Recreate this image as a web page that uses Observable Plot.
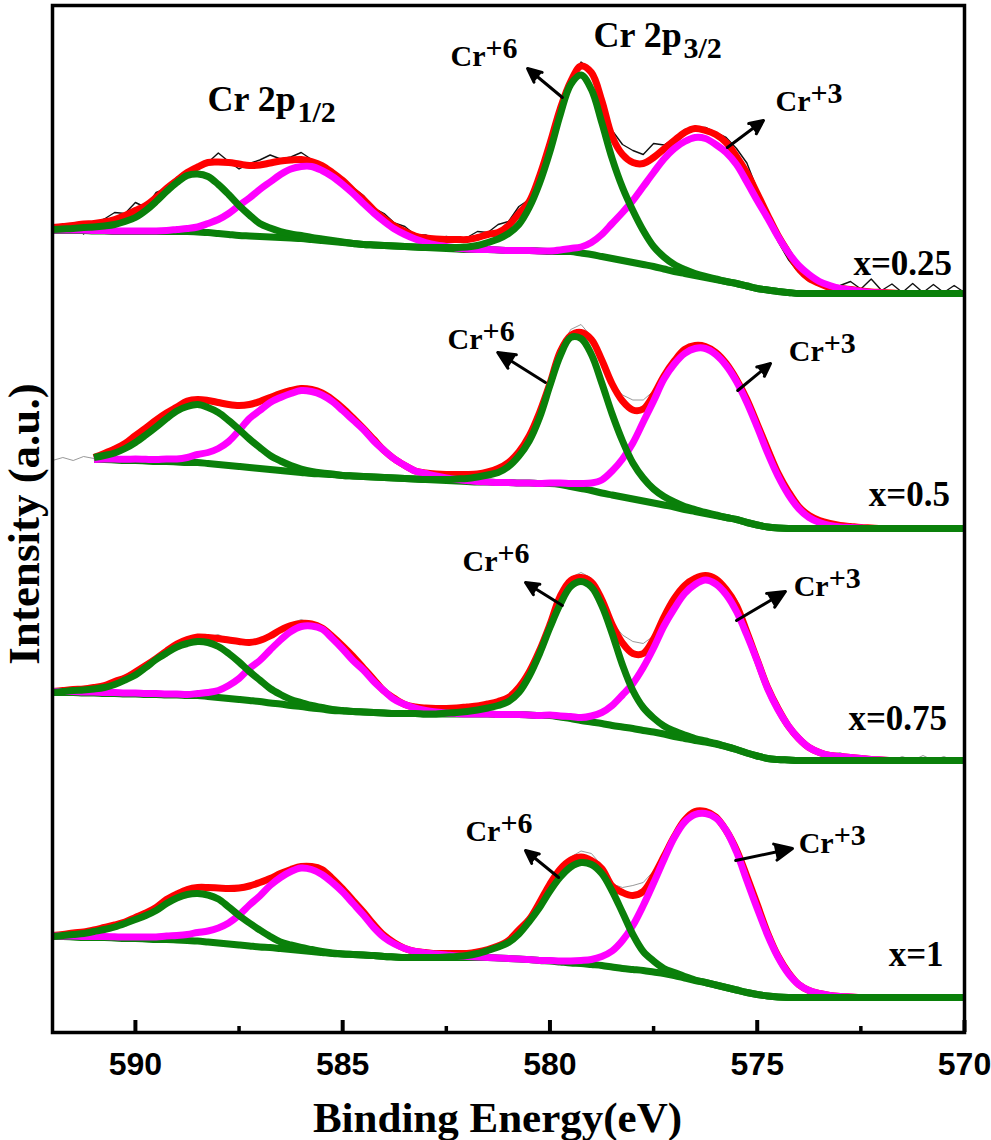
<!DOCTYPE html>
<html>
<head>
<meta charset="utf-8">
<script src="https://cdn.jsdelivr.net/npm/d3@7"></script>
<script src="https://cdn.jsdelivr.net/npm/@observablehq/plot@0.6"></script>
<style>
  html, body { margin: 0; padding: 0; background: #fff; }
  #chart svg { display: block; }
  #chart g[aria-label="x-axis tick label"] text {
    font-family: "Liberation Sans", Arial, Helvetica, sans-serif;
    font-size: 32px;
    font-weight: bold;
  }
</style>
</head>
<body>
<div id="chart"></div>
<script>
// Cr 2p XPS spectra of four compositions, each fitted with a Cr6+ and a Cr3+ doublet
// on a Shirley-type background. Spectra are stacked with a vertical offset.

// Binding-energy sampling grid (eV), 0.25 eV steps from 592 down to 570.
const energy = d3.range(592, 569.875, -0.25);

const samples = ["x=0.25", "x=0.5", "x=0.75", "x=1"];
const offsets = [739, 504, 272, 35];      // stacking offset of each spectrum (a.u.)
const fitStart = [592, 591, 592, 592];    // highest energy covered by each fit (eV)

// Each row of four values covers one eV: E, E-0.25, E-0.5, E-0.75 (592 ... 571), then 570.
// Background (a.u. above the stacking offset)
const bg025 = [
  63, 63, 63, 63,   62.5, 62.5, 62, 62,   62, 62, 62, 62,   62, 62, 61.5, 61,
  60, 59, 58, 57.5,   57, 56.5, 56, 55.5,   55, 54, 53, 52,   51, 50, 49, 48.5,
  48, 47.5, 47, 46.5,   46, 45.5, 45, 44.5,   44, 44, 44, 43.5,   43, 43, 43, 42.5,
  42, 42, 42, 40.5,   39, 37, 35, 33,   31, 29, 27, 24.5,   22, 20, 18, 16,
  14, 12, 10, 7.5,   5, 3.5, 2, 1,   0, 0, 0, 0,   0, 0, 0, 0,
  0, 0, 0, 0,   0, 0, 0, 0,   0
];
// Cr6+ components (2p1/2 near 588.5 eV, 2p3/2 near 579.3 eV), height above background
const cr6_025 = [
  1, 1.5, 2, 3,   4, 5, 7, 10,   14, 21, 30, 40,   49, 56, 58, 56,
  49, 40, 30, 21,   13, 9, 6, 4,   3, 2, 1.5, 1,   0.5, 0, 0, 0,
  0, 0, 0, 0,   0, 0.5, 1, 1.5,   2.5, 4, 7, 11,   17, 26, 43, 68,
  100, 137, 167, 178,   165, 134, 100, 73,   52, 34, 20, 12,   7, 4, 2, 1,
  0.5, 0, 0, 0,   0, 0, 0, 0,   0, 0, 0, 0,   0, 0, 0, 0,
  0, 0, 0, 0,   0, 0, 0, 0,   0
];
// Cr3+ components (2p1/2 near 586 eV, 2p3/2 near 576.3 eV), height above background
const cr3_025 = [
  0.5, 0.5, 0.5, 0.5,   0.5, 0.5, 0.5, 0.5,   0.5, 0.5, 0.5, 1,   2, 3, 5, 9,
  14, 21, 30, 38,   47, 55, 63, 69,   72, 73, 70, 65,   58, 50, 41, 32,
  24, 17, 12, 8,   5, 3, 2, 1,   0.5, 0, 0, 0,   0, 0, 0, 0,
  0.5, 1.5, 3, 6,   12, 22, 35, 48,   62, 78, 94, 110,   123, 132, 138, 139,
  135, 129, 119, 104,   88, 72, 55, 40,   28, 19, 12, 8,   5, 3.5, 2, 1,
  0.5, 0, 0, 0,   0, 0, 0, 0,   0
];
// Fitted envelope, height above background
const env025 = [
  3, 4, 5, 6.5,   7.5, 9, 12, 16,   21, 26, 34, 43,   51, 59, 65, 70,
  71.5, 72, 71.5, 70.5,   71.5, 74, 76.5, 78,   79, 78, 75, 69,   62, 53, 45, 35,
  27, 20, 15, 11,   9.5, 9, 9, 9.5,   10, 12, 15, 17.5,   25, 37, 49, 75,
  108, 143, 170, 187,   182, 156, 122, 106,   100, 101, 109, 120,   131, 141, 147, 147,
  145, 139, 127, 113,   95, 75, 56, 40,   25, 15, 10, 6,   5, 4, 2.5, 1.5,
  1, 0.5, 0, 0,   0, 0, 0, 0,   0
];
// Measured counts minus the fitted envelope
const noise025 = [
  0, -3, 2, -10,   0, 3, 7, 2,   8, -2, 5, 0,   3, -2, 2, 0,
  9, 1, -5, 2,   5, 8, 2, 3,   7, 2, 0, -2,   1, 3, 4, 2,
  5, 3, 5, 1,   3, 0, 3, 1,   2, 6, 2, 8,   4, 7, 2, 5,
  -2, 4, 0, 4,   2, 3, 6, 10,   12, 9, 14, 4,   2, 3, 1, 3,
  2, 5, 8, 10,   4, 2, -6, -7,   -4, -3, 2, 0,   3, 8, 2, 13,
  2, 9, 1, 10,   1, 9, 1, 8,   1
];

const bg05 = [
  69, 69, 69, 69,   69, 69, 68.5, 68,   68, 67.5, 67, 67,   66.5, 66, 66, 65,
  64, 63, 62, 61,   60, 59, 58, 57,   56, 55, 54.5, 54,   53, 52.5, 52, 51.5,
  51, 50.5, 50, 49.5,   49, 48.5, 48, 47.5,   47, 46.5, 46.5, 46,   46, 45.5, 45.5, 45,
  45, 44, 42, 40,   38, 35.5, 33.5, 31.5,   29.5, 27.5, 25.5, 23.5,   21.5, 19, 17, 15,
  13, 11, 9, 6,   3.5, 1.5, 0.5, 0,   0, 0, 0, 0,   0, 0, 0, 0,
  0, 0, 0, 0,   0, 0, 0, 0,   0
];
const cr6_05 = [
  1, 1, 1, 1.5,   2, 4, 7, 12,   18, 26, 34.5, 43,   51, 56, 58, 56,
  52, 45, 37, 28.5,   21, 14, 9.5, 6,   3.5, 2, 1, 0.5,   0, 0, 0, 0,
  0, 0, 0, 0,   0, 0.5, 1, 2,   3, 5, 7, 10,   16, 27, 42, 66,
  98, 129, 149, 150,   136, 110, 81, 56,   36, 23, 14, 8.5,   5, 3, 2, 1,
  0.5, 0, 0, 0,   0, 0, 0, 0,   0, 0, 0, 0,   0, 0, 0, 0,
  0, 0, 0, 0,   0, 0, 0, 0,   0
];
const cr3_05 = [
  0, 0, 0, 0,   0, 0.5, 1, 1.2,   1.5, 1.7, 2, 2.5,   3, 5, 8, 11,
  16, 24, 36, 49,   58, 67, 73, 78,   82, 82, 79, 73,   65, 56, 47, 36,
  27, 19, 13, 8,   6, 4, 2.5, 1.5,   1, 0.5, 0, 0,   0, 0, 0, 0,
  0.5, 1.5, 3, 5,   7.5, 13, 24, 38,   56, 79, 102, 126,   143, 156, 163, 165,
  161, 152, 138, 120,   98, 74, 52, 34,   20, 11, 6, 3,   1.5, 1, 0.5, 0,
  0, 0, 0, 0,   0, 0, 0, 0,   0
];
const env05 = [
  0, 0, 0, 1,   2, 6, 11, 17,   25, 33, 41.5, 48.5,   55, 61.5, 63, 63,
  62, 61, 61, 63,   67, 72, 77, 81,   84, 84, 81, 75,   67.5, 58, 48, 37.5,
  27, 19, 13, 8,   6.5, 6, 6, 6.5,   7, 8, 10, 14,   20, 31, 47, 71,
  100, 133, 151, 156,   151, 133, 111, 96,   89, 92, 108, 129,   146, 160, 166, 167,
  163, 154, 140, 123,   101, 78, 55, 37,   22, 13, 8, 5,   3, 2, 1, 0.5,
  0, 0, 0, 0,   0, 0, 0, 0,   0
];
const noise05 = [
  -1, 2, -1, 2,   -1, 1, 0, 2,   0, 1, 0, 1,   0, 2, 1, 0,
  1, 0, 1, 2,   0, 1, 0, 1,   3, 1, 0, 1,   0, 1, 2, 0,
  1, 0, 1, 0,   1, 0, 1, 0,   0, 1, 2, 0,   1, 0, 1, 0,
  0, 2, 6, 8,   3, 1, 2, 6,   10, 9, 4, 1,   0, 1, 2, 1,
  3, 2, 5, 4,   1, -3, -4, 0,   2, 1, 0, 1,   0, 1, 0, 1,
  0, 2, 0, 1,   3, 0, 2, 0,   0
];

const bg075 = [
  68, 68, 68, 67.5,   67.5, 67, 67, 66.5,   66.5, 66, 66, 65.5,   65.5, 65, 65, 64,
  63, 62, 61, 60,   59, 57.5, 56.5, 55,   54, 52.5, 51.5, 50,   49.5, 49, 48.5, 48,
  47.5, 47, 47, 47,   46.5, 46.5, 46.5, 46.5,   46.5, 46.5, 46.5, 46,   46, 46, 45.5, 45,
  45, 43.5, 42, 40,   38.5, 37, 35, 33.5,   32, 30, 28.5, 26.5,   24, 22, 20, 18.5,
  16.5, 14, 11, 7.5,   4.5, 2, 1, 0.5,   0, 0, 0, 0,   0, 0, 0, 0,
  0, 0, 0, 0,   0, 0, 0, 0,   0
];
const cr6_075 = [
  0, 1, 2, 3,   4, 6, 9, 14,   19, 27, 35, 42,   48, 52, 54, 54,
  51, 45, 37.5, 29,   21.5, 14.5, 9.5, 6,   4, 2.5, 1.5, 1,   0.5, 0, 0, 0,
  0, 0, 0, 0,   0, 0, 1, 1.5,   2.5, 4, 6, 9,   13, 22, 39, 62,
  88, 113, 132, 139,   135, 118, 92, 62,   38, 23, 14, 8,   5.5, 3.5, 2, 1,
  0.5, 0, 0, 0,   0, 0, 0, 0,   0, 0, 0, 0,   0, 0, 0, 0,
  0, 0, 0, 0,   0, 0, 0, 0,   0
];
const cr3_075 = [
  1, 1, 1, 1,   1, 1, 1, 1,   1, 1, 1, 1,   1, 1, 2, 4,
  7, 13, 21, 32,   41, 53, 64, 74,   80, 82, 80, 72,   62, 51, 42, 31,
  22, 14, 9, 5.5,   3.5, 2, 1, 0.5,   0, 0, 0, 0,   0, 0, 0, 0,
  0.5, 1, 2, 3,   6, 11, 20, 32,   45, 63, 84, 108,   128, 145, 156, 162,
  160, 152, 138, 118,   95, 70, 50, 34,   22, 13, 8, 5,   4, 3, 2, 1,
  0.5, 0, 0, 0,   0, 0, 0, 0,   0
];
const env075 = [
  1, 2, 3, 4,   5.5, 8, 12, 16,   22, 29, 36, 44,   51, 56, 58.5, 59,
  59, 58.5, 58, 58,   61, 67, 74, 80,   83, 84, 81, 74,   65, 55, 44, 33,
  22, 15, 9, 6.5,   6, 5.5, 5.5, 6,   7, 8, 10, 13,   17, 27, 43, 65,
  91, 121, 138, 143,   140, 124, 101, 84,   75, 77, 93, 117,   138, 153, 162, 166.5,
  165, 157, 144, 121,   96, 71, 51, 34,   22, 13, 8, 5,   4, 3, 2, 1,
  0.5, 0, 0, 0,   0, 0, 0, 0,   0
];
const noise075 = [
  0, -2, 1, 0,   2, 0, 1, 0,   3, 0, 1, 0,   0, 1, 2, 0,
  4, 0, 1, 0,   0, 1, 0, 2,   4, 1, 0, 1,   0, 1, 0, 1,
  1, 0, 2, 0,   1, 3, 0, 1,   0, 1, 0, 2,   0, 1, 0, -2,
  2, 0, 3, 5,   4, 1, 2, 8,   12, 10, 3, 0,   1, 0, 2, 1,
  2, 4, 6, 5,   2, -3, -4, 0,   2, 1, 3, 1,   4, 0, 3, 0,
  1, 0, 4, 0,   5, 0, 4, 0,   0
];

const bg1 = [
  61, 61, 60.5, 60,   60, 60, 59.5, 59,   59, 58.5, 58, 58,   57.5, 57, 56.5, 55.5,
  54.5, 53.5, 52.5, 51.5,   50.5, 50, 49, 48,   47, 46, 45, 44,   43.5, 43, 42.5, 42,
  41, 40.5, 40, 40,   40, 40, 40, 40,   40, 40, 40, 39.5,   39, 38.5, 38, 37,
  36.5, 35.5, 34.5, 34,   33, 32, 30.5, 29,   28, 27, 25.5, 24,   22, 19.5, 17, 15,
  12.5, 10, 7.5, 5,   3, 1.5, 0.5, 0,   0, 0, 0, 0,   0, 0, 0, 0,
  0, 0, 0, 0,   0, 0, 0, 0,   0
];
const cr6_1 = [
  0, 1, 2.5, 4,   6, 8, 11, 15,   19, 23.5, 29, 36,   42, 46, 47.5, 47,
  44, 37, 29.5, 23,   17, 11, 6.5, 4.5,   3, 2, 1, 0.5,   0, 0, 0, 0,
  0, 0, 0, 0,   0, 0, 0.5, 1,   2, 4, 7, 11,   16, 25, 38, 53,
  70, 85, 96, 101,   100, 92, 76, 56,   35, 19, 11, 5,   3, 1.5, 0.5, 0,
  0, 0, 0, 0,   0, 0, 0, 0,   0, 0, 0, 0,   0, 0, 0, 0,
  0, 0, 0, 0,   0, 0, 0, 0,   0
];
const cr3_1 = [
  0.5, 0.5, 1, 1,   1, 1, 1.2, 1.4,   1.5, 2, 2.5, 3.5,   4.5, 6, 8.5, 11,
  15, 21, 30, 41,   51, 62, 71, 78,   82.5, 82, 78, 71,   62, 51, 40, 28,
  19, 13, 9, 6,   4.5, 3.5, 2.5, 1.5,   1, 0.5, 0, 0,   0, 0, 0, 0,
  0.5, 1, 2, 3,   5, 9, 16, 28,   44, 65, 89, 114,   138, 156, 166, 169,
  167, 157, 138, 112,   86, 61, 40, 24,   13, 7, 4, 2,   1, 0.5, 0, 0,
  0, 0, 0, 0,   0, 0, 0, 0,   0
];
const env1 = [
  1, 2, 4, 5.5,   7.5, 10, 13, 16.5,   21, 26, 32, 40,   46, 51, 53.5, 54.5,
  55, 55.5, 57, 60,   64.5, 69, 75, 80,   84, 85, 83, 75,   65, 54, 43, 31,
  21, 14, 9, 6,   5, 4, 4, 4,   4, 5.5, 8, 12,   18, 29, 40, 58,
  77, 93, 103, 106.5,   104, 97, 81, 76,   74, 79, 96, 117,   139, 158, 169, 171,
  168, 157, 140, 116,   90, 63, 41, 25,   13, 7, 4, 2,   1, 0.5, 0, 0,
  0, 0, 0, 0,   0, 0, 0, 0,   0
];
const noise1 = [
  0, 1, 0, 2,   0, 1, 0, 2,   0, 1, 0, 1,   0, 1, 0, 1,
  0, 2, 0, 1,   0, 1, 2, 0,   2, 1, 0, 1,   0, 1, 0, 1,
  0, 1, 0, 1,   0, 2, 0, 1,   0, 1, 0, 1,   0, 1, 0, 2,
  0, 2, 3, 6,   7, 3, 2, 5,   10, 9, 5, 2,   0, 1, 2, 0,
  1, 3, 5, 4,   2, -2, -3, 0,   1, 0, 2, 0,   1, 0, 2, 0,
  1, 0, 2, 0,   2, 0, 2, 0,   0
];

const backgrounds = [bg025, bg05, bg075, bg1];
const cr6Fits = [cr6_025, cr6_05, cr6_075, cr6_1];
const cr3Fits = [cr3_025, cr3_05, cr3_075, cr3_1];
const envelopes = [env025, env05, env075, env1];
const residuals = [noise025, noise05, noise075, noise1];

// Axis ticks
const majorTicks = [590, 585, 580, 575, 570];
const minorTicks = [587.5, 582.5, 577.5, 572.5];

// Annotations (energy in eV, intensity in a.u.)
const doublets = [
  {E: 588.26, I: 922, main: "Cr 2p", sub: "1/2"},
  {E: 578.95, I: 986, main: "Cr 2p", sub: "3/2"}
];
const ionLabels = [
  {E: 582.40, I: 967, charge: "+6"}, {E: 574.56, I: 922, charge: "+3"},
  {E: 582.47, I: 684, charge: "+6"}, {E: 574.24, I: 672, charge: "+3"},
  {E: 582.11, I: 462, charge: "+6"}, {E: 574.12, I: 437, charge: "+3"},
  {E: 582.04, I: 192, charge: "+6"}, {E: 574.00, I: 180, charge: "+3"}
];
const arrows = [
  {E1: 579.70, I1: 935, E2: 580.54, I2: 964}, {E1: 575.72, I1: 885, E2: 574.85, I2: 912},
  {E1: 580.11, I1: 650, E2: 581.26, I2: 680}, {E1: 575.47, I1: 642, E2: 574.68, I2: 669},
  {E1: 579.70, I1: 427, E2: 580.59, I2: 450}, {E1: 575.50, I1: 412, E2: 574.32, I2: 441},
  {E1: 579.79, I1: 155, E2: 580.59, I2: 182}, {E1: 575.52, I1: 172, E2: 574.15, I2: 184}
];
const sampleLabels = [
  {E: 572.68, I: 758, text: "x=0.25"},
  {E: 572.31, I: 527, text: "x=0.5"},
  {E: 572.80, I: 303, text: "x=0.75"},
  {E: 571.83, I: 67, text: "x=1"}
];

// Long-format table: one row per sample and energy, in stacked intensity units
const rows = samples.flatMap((sample, s) => energy.map((E, i) => {
  const base = offsets[s] + backgrounds[s][i];
  return {
    sample, E,
    fit: E <= fitStart[s],
    bg: base,
    cr6: base + cr6Fits[s][i],
    cr3: base + cr3Fits[s][i],
    env: base + envelopes[s][i],
    raw: base + envelopes[s][i] + residuals[s][i]
  };
}));
const fitRows = rows.filter(d => d.fit);

const SERIF = '"Liberation Serif", "Times New Roman", Times, serif';
const SANS = '"Liberation Sans", Arial, Helvetica, sans-serif';
const RED = "#ff0000", MAGENTA = "#ff00ff", GREEN = "#0a800a";
const fitLine = {x: "E", z: "sample", strokeWidth: 7, curve: "catmull-rom", strokeLinecap: "butt", strokeLinejoin: "round"};
const bold = {fontFamily: SERIF, fontWeight: "bold", textAnchor: "start", lineAnchor: "bottom", fill: "#000"};

const chart = Plot.plot({
  width: 991,
  height: 1140,
  marginTop: 5,
  marginRight: 27,
  marginBottom: 108,
  marginLeft: 52,
  style: {background: "#fff", overflow: "visible"},
  x: {domain: [592, 570]},
  y: {domain: [0, 1027], axis: null},
  marks: [
    // measured spectra
    Plot.line(rows.filter(d => d.sample !== "x=0.25"), {x: "E", y: "raw", z: "sample", stroke: "#8c8c8c", strokeWidth: 0.9}),
    Plot.line(rows.filter(d => d.sample === "x=0.25"), {x: "E", y: "raw", stroke: "#111", strokeWidth: 1.4}),
    // fit: envelope, background, Cr3+ and Cr6+ components
    Plot.line(fitRows, {...fitLine, y: "env", stroke: RED}),
    Plot.line(fitRows, {...fitLine, y: "bg", stroke: GREEN}),
    Plot.line(fitRows, {...fitLine, y: "cr3", stroke: MAGENTA}),
    Plot.line(fitRows, {...fitLine, y: "cr6", stroke: GREEN}),
    // frame and inward ticks
    Plot.frame({stroke: "#000", strokeWidth: 3.5}),
    Plot.ruleX(majorTicks, {x: d => d, y1: 0, y2: 12, stroke: "#000", strokeWidth: 4}),
    Plot.ruleX(minorTicks, {x: d => d, y1: 0, y2: 6, stroke: "#000", strokeWidth: 3.5}),
    Plot.axisX(majorTicks, {tickSize: 0, tickPadding: 20, label: null, tickFormat: d => `${d}`,
      fontSize: 32, fontWeight: "bold", fontFamily: SANS}),
    // annotations
    Plot.arrow(arrows, {x1: "E1", y1: "I1", x2: "E2", y2: "I2", stroke: "#000", fill: "#000",
      strokeWidth: 3, headLength: 14, headAngle: 50}),
    Plot.text(doublets, {...bold, x: "E", y: "I", text: "main", fontSize: 36}),
    Plot.text(doublets, {...bold, x: "E", y: "I", text: "sub", fontSize: 30, dx: 90, dy: 11}),
    Plot.text(ionLabels, {...bold, x: "E", y: "I", text: () => "Cr", fontSize: 30}),
    Plot.text(ionLabels, {...bold, x: "E", y: "I", text: "charge", fontSize: 30, dx: 35, dy: -8}),
    Plot.text(sampleLabels, {...bold, x: "E", y: "I", text: "text", fontSize: 35}),
    // axis titles
    Plot.text(["Binding Energy(eV)"], {text: d => d, frameAnchor: "bottom", textAnchor: "middle", dx: -11, dy: 99,
      fontFamily: SERIF, fontWeight: "bold", fontSize: 43, lineAnchor: "bottom", fill: "#000"}),
    Plot.text(["Intensity (a.u.)"], {text: d => d, frameAnchor: "left", textAnchor: "middle", rotate: -90, dx: -14, dy: 5,
      fontFamily: SERIF, fontWeight: "bold", fontSize: 45, lineAnchor: "bottom", fill: "#000"})
  ]
});

document.getElementById("chart").append(chart);
</script>
</body>
</html>
